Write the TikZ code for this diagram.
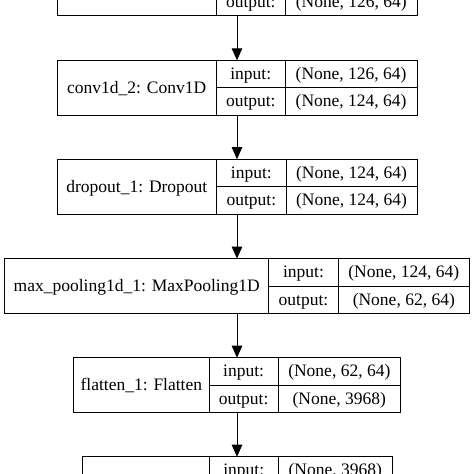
\documentclass[tikz,border=0pt]{standalone}
\usepackage{fontspec}
\setmainfont{Liberation Serif}
\usetikzlibrary{arrows.meta}
\tikzset{
  layerbox/.style={draw, line width=1pt, rectangle, inner sep=0pt, outer sep=0pt, minimum height=55pt},
  sepline/.style={line width=1pt},
  txt/.style={anchor=base, inner sep=0pt, font=\fontsize{17.5}{21}\selectfont},
  flow/.style={line width=1pt, -{Triangle[length=12pt,width=10.5pt]}}
}
% #1 name, #2 top, #3 left, #4 d1, #5 d2, #6 right, #7 label, #8 input, #9 output
\newcommand{\klayer}[9]{%
  \pgfmathsetmacro\kc{(#3+#6)/2}%
  \pgfmathsetmacro\kmid{#2+27.5}%
  \node[layerbox, minimum width={(#6-#3)*1pt}] (#1) at (\kc,\kmid) {};
  \draw[sepline] (#4,#2) -- (#4,{#2+55});
  \draw[sepline] (#5,#2) -- (#5,{#2+55});
  \draw[sepline] (#4,\kmid) -- (#6,\kmid);
  \node[txt] (#1-l) at ({(#3+#4)/2},{\kmid+5.4}) {#7};
  \node[txt] (#1-i) at ({(#4+#5)/2},{#2+13.75+5.4}) {input:};
  \node[txt] (#1-iv) at ({(#5+#6)/2},{#2+13.75+5.4}) {#8};
  \node[txt] (#1-o) at ({(#4+#5)/2},{#2+41.25+5.4}) {output:};
  \node[txt] (#1-ov) at ({(#5+#6)/2},{#2+41.25+5.4}) {#9};
}
\begin{document}
\begin{tikzpicture}[x=1pt,y=-1pt]
\useasboundingbox (0,0) rectangle (474,474);
\clip (0,0) rectangle (474,474);
\fill[white] (0,0) rectangle (474,474);
% top box (cut off)
\pgfmathsetmacro\ztop{-39.7}
\node[layerbox, minimum width=360pt] (b0) at (237,-12.2) {};
\draw[sepline] (216.3,-39.7) -- (216.3,15.3);
\draw[sepline] (285.3,-39.7) -- (285.3,15.3);
\draw[sepline] (216.3,-12.2) -- (417,-12.2);
\node[txt] (b0-o) at (250.8,7.0) {output:};
\node[txt] (b0-ov) at (351.2,7.0) {(None, 126, 64)};
\klayer{b1}{60.3}{57}{216.3}{285.3}{417}{conv1d\_2: Conv1D}{(None, 126, 64)}{(None, 124, 64)}
\klayer{b2}{159.2}{57}{216.7}{286}{417}{dropout\_1: Dropout}{(None, 124, 64)}{(None, 124, 64)}
\klayer{b3}{258.6}{4.7}{268.7}{338.3}{469.3}{max\_pooling1d\_1: MaxPooling1D}{(None, 124, 64)}{(None, 62, 64)}
\klayer{b4}{357.7}{73.7}{209}{278.3}{400.3}{flatten\_1: Flatten}{(None, 62, 64)}{(None, 3968)}
% bottom box (cut off)
\node[layerbox, minimum width=310pt] (b5) at (237,484.2) {};
\draw[sepline] (209.3,456.7) -- (209.3,511.7);
\draw[sepline] (278.3,456.7) -- (278.3,511.7);
\draw[sepline] (209.3,484.2) -- (392,484.2);
\node[txt] (b5-i) at (243.8,475.8) {input:};
\node[txt] (b5-iv) at (335.2,475.8) {(None, 3968)};
% connectors
\draw[flow] (b0.south) -- (b1.north);
\draw[flow] (b1.south) -- (b2.north);
\draw[flow] (b2.south) -- (b3.north);
\draw[flow] (b3.south) -- (b4.north);
\draw[flow] (b4.south) -- (b5.north);
\end{tikzpicture}
\end{document}
